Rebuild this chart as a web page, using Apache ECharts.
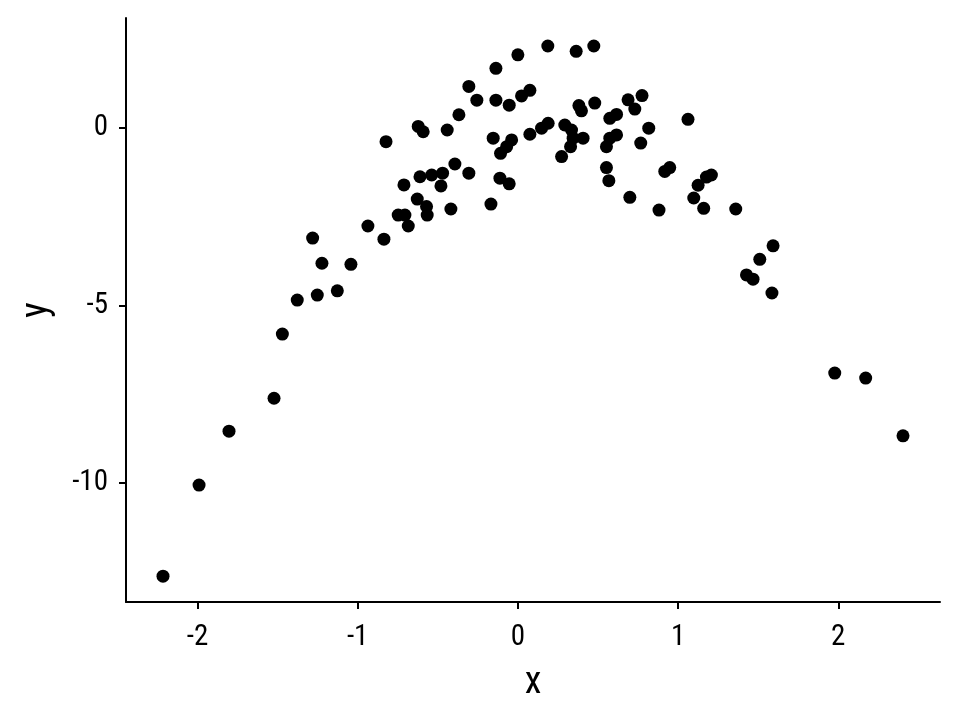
<!DOCTYPE html>
<html><head><meta charset="utf-8">
<script src="https://cdn.jsdelivr.net/npm/echarts@6/dist/echarts.min.js"></script>
<style>html,body{margin:0;padding:0;background:#fff}#c{width:960px;height:720px}</style>
</head><body><div id="c"></div>
<script>
const xValues = [-2.215,-1.990,-1.803,-1.522,-1.470,-1.377,-1.252,-1.127,-1.281,-1.223,-1.042,-0.936,-0.836,-0.823,-0.747,-0.705,-0.684,-0.711,-0.628,-0.570,-0.566,-0.418,-0.611,-0.538,-0.470,-0.480,-0.393,-0.306,-0.622,-0.591,-0.441,-0.368,-0.306,-0.256,-0.137,-0.137,-0.054,0.000,0.023,0.075,0.187,0.364,0.474,-0.154,-0.039,-0.070,-0.108,-0.112,-0.054,-0.168,0.075,0.148,0.189,0.293,0.335,0.345,0.407,0.329,0.273,0.381,0.397,0.480,0.574,0.616,0.688,0.730,0.775,0.574,0.616,0.553,0.817,0.767,0.553,0.568,0.699,0.881,0.917,0.948,1.062,1.125,1.177,1.208,1.098,1.160,1.360,1.593,1.510,1.427,1.468,1.586,1.978,2.171,2.404];
const yValues = [-12.64,-10.07,-8.55,-7.62,-5.81,-4.85,-4.71,-4.59,-3.10,-3.81,-3.84,-2.76,-3.13,-0.38,-2.45,-2.45,-2.76,-1.60,-2.00,-2.21,-2.45,-2.28,-1.37,-1.32,-1.27,-1.63,-1.01,-1.27,0.05,-0.10,-0.05,0.38,1.18,0.79,1.69,0.79,0.65,2.07,0.91,1.07,2.32,2.17,2.32,-0.28,-0.33,-0.52,-0.71,-1.41,-1.57,-2.14,-0.17,0.00,0.14,0.09,-0.05,-0.28,-0.28,-0.52,-0.80,0.64,0.49,0.71,0.28,0.39,0.80,0.54,0.92,-0.28,-0.19,-0.52,0.00,-0.42,-1.11,-1.48,-1.95,-2.31,-1.22,-1.11,0.25,-1.61,-1.38,-1.32,-1.97,-2.26,-2.28,-3.32,-3.70,-4.14,-4.26,-4.65,-6.91,-7.05,-8.68];
const xTicks = [-2,-1,0,1,2];
const yTicks = [-10,-5,0];
const points = xValues.map((x,i)=>[x,yValues[i]]);
const font = "'Roboto Condensed','Liberation Sans Narrow','DejaVu Sans Condensed',Roboto";
const chart = echarts.init(document.getElementById('c'));
chart.setOption({
  animation:false,
  backgroundColor:'#fff',
  grid:{left:126,right:20,top:18,bottom:118,containLabel:false},
  xAxis:{type:'value',min:-2.446,max:2.635,name:'x',nameLocation:'middle',nameGap:62,
    nameTextStyle:{fontFamily:font,fontSize:38,color:'#000'},
    splitLine:{show:false},
    axisLine:{show:true,onZero:false,lineStyle:{color:'#000',width:2}},
    axisTick:{show:true,length:7,lineStyle:{color:'#000',width:2},customValues:xTicks},
    axisLabel:{fontFamily:font,fontSize:29,color:'#000',margin:21,customValues:xTicks}},
  yAxis:{type:'value',min:-13.37,max:3.11,name:'y',nameLocation:'middle',nameGap:70,
    nameTextStyle:{fontFamily:font,fontSize:38,color:'#000'},
    splitLine:{show:false},
    axisLine:{show:true,onZero:false,lineStyle:{color:'#000',width:2}},
    axisTick:{show:true,length:7,lineStyle:{color:'#000',width:2},customValues:yTicks},
    axisLabel:{fontFamily:font,fontSize:29,color:'#000',margin:18,customValues:yTicks}},
  series:[{type:'scatter',data:points,symbol:'circle',symbolSize:13,itemStyle:{color:'#000',opacity:1}}]
});
</script></body></html>
